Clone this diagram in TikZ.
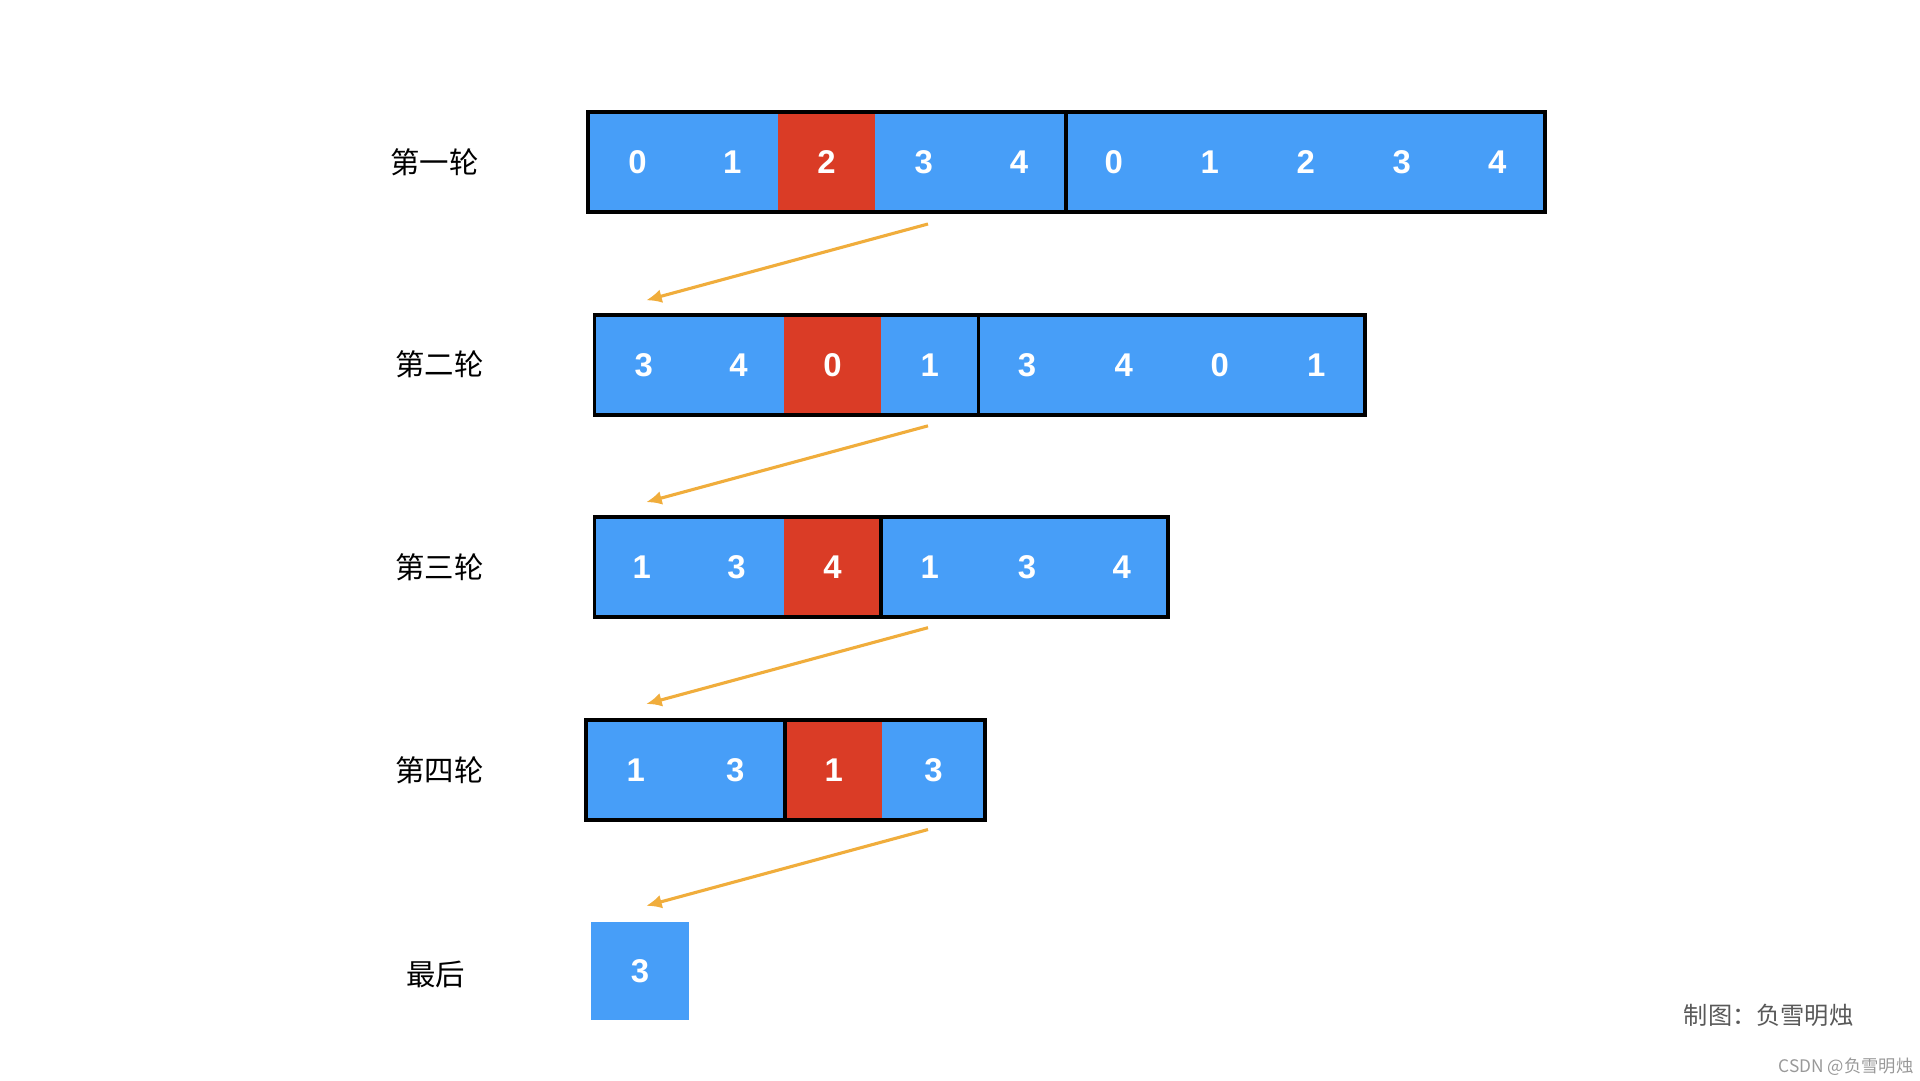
\documentclass[tikz,border=0pt]{standalone}
\usepackage{fontspec}
\usetikzlibrary{arrows.meta}
\setmainfont{Noto Sans CJK SC}
\newfontfamily\digitfont{Liberation Sans}
\definecolor{cblue}{HTML}{479EF8}
\definecolor{cred}{HTML}{DA3C26}
\definecolor{corange}{HTML}{F0AD3C}
\begin{document}
\begin{tikzpicture}[x=0.025cm,y=-0.025cm,
  cellbox/.style={inner sep=0pt,outer sep=0pt,text=white,font=\digitfont\bfseries\fontsize{19}{19}\selectfont},
  frame/.style={draw=black,line width=2.2pt},
  rowlabel/.style={font=\fontsize{17}{17}\selectfont},
  arr/.style={draw=corange,line width=1.8pt,-{Latex[length=9pt,width=8pt]}}]
\useasboundingbox (0,0) rectangle (1560,878);
\newcommand\mycells[4]{%
  \foreach \a/\b/\d/\c [count=\i] in {#4}{
    \fill[\c] (\a,#2) rectangle (\b,#3);
    \node[cellbox] (#1\i) at ({(\a+\b)/2},{(#2+#3)/2}) {\d};
  }}
\mycells{ra}{91}{172}{478/558/0/cblue,558/632/1/cblue,632/711/2/cred,711/790/3/cblue,790/866/4/cblue,866/944/0/cblue,944/1022/1/cblue,1022/1100/2/cblue,1100/1178/3/cblue,1178/1255/4/cblue}
\draw[frame] (478,91) rectangle (1255,172);
\draw[frame] (866,91) -- (866,172);
\mycells{rb}{256}{337}{483/563/3/cblue,563/637/4/cblue,637/716/0/cred,716/795/1/cblue,795/874/3/cblue,874/952/4/cblue,952/1030/0/cblue,1030/1109/1/cblue}
\draw[frame] (483,256) rectangle (1109,337);
\draw[frame] (795,256) -- (795,337);
\mycells{rc}{420}{501}{483/560/1/cblue,560/637/3/cblue,637/716/4/cred,716/795/1/cblue,795/874/3/cblue,874/949/4/cblue}
\draw[frame] (483,420) rectangle (949,501);
\draw[frame] (716,420) -- (716,501);
\mycells{rd}{585}{666}{476/557/1/cblue,557/638/3/cblue,638/717/1/cred,717/800/3/cblue}
\draw[frame] (476,585) rectangle (800,666);
\draw[frame] (638,585) -- (638,666);
\mycells{re}{749}{829}{480/560/3/cblue}
\node[rowlabel] (la) at (353,132) {第一轮};
\node[rowlabel] (lb) at (357,296) {第二轮};
\node[rowlabel] (lc) at (357,461) {第三轮};
\node[rowlabel] (ld) at (357,626) {第四轮};
\node[rowlabel] (le) at (354,792) {最后};
\foreach \k in {0,1,2,3}{
  \coordinate (s\k) at (754,{182+164*\k});
  \coordinate (t\k) at (525,{244+164*\k});
  \draw[arr] (s\k) -- (t\k);
}
\node[font=\fontsize{14}{14}\selectfont,text=black!65] (wm) at (1437,825) {制图：负雪明烛};
\node[font=\fontsize{10}{10}\selectfont,text=black!40] (csdn) at (1500,867) {CSDN @负雪明烛};
\end{tikzpicture}
\end{document}
